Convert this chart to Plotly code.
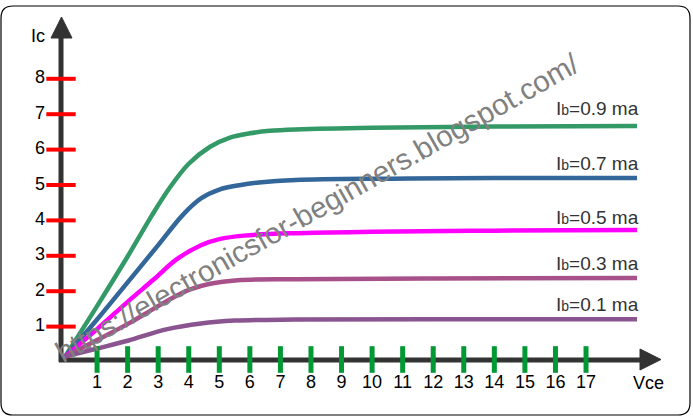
import plotly.graph_objects as go

# transistor output characteristics, Ic vs Vce for several base currents
vce_09 = [-0.05, 1.0, 2.0, 2.8, 3.4, 4.0, 4.7, 5.35, 6.0, 6.65, 7.5, 10.0, 14.0, 18.67]
ic_09 = [0.15, 1.58, 2.98, 4.15, 4.95, 5.6, 6.08, 6.34, 6.46, 6.53, 6.57, 6.62, 6.65, 6.67]

vce_07 = [-0.05, 1.0, 2.0, 3.0, 3.8, 4.4, 5.0, 5.7, 6.3, 7.5, 10.6, 14.0, 18.67]
ic_07 = [0.15, 1.2, 2.25, 3.3, 4.15, 4.62, 4.87, 5.0, 5.07, 5.14, 5.18, 5.2, 5.2]

vce_05 = [-0.05, 1.0, 2.0, 2.85, 3.6, 4.4, 5.0, 5.8, 7.5, 10.0, 14.0, 18.67]
ic_05 = [0.15, 0.93, 1.7, 2.33, 2.9, 3.3, 3.47, 3.57, 3.64, 3.68, 3.71, 3.73]

vce_03 = [-0.05, 1.0, 2.1, 2.75, 3.4, 4.05, 4.7, 5.6, 7.5, 12.0, 18.67]
ic_03 = [0.15, 0.62, 1.12, 1.45, 1.78, 2.05, 2.21, 2.31, 2.34, 2.36, 2.37]

vce_01 = [-0.05, 1.0, 2.0, 3.3, 4.4, 5.5, 7.5, 12.0, 18.67]
ic_01 = [0.15, 0.38, 0.6, 0.93, 1.09, 1.17, 1.2, 1.21, 1.21]

ib_labels = ["0.9", "0.7", "0.5", "0.3", "0.1"]
vce_ticks = list(range(1, 18))
ic_ticks = list(range(1, 9))

curves = [
    (vce_09, ic_09, "#339966", 108),
    (vce_07, ic_07, "#336699", 163),
    (vce_05, ic_05, "#FF00FF", 217),
    (vce_03, ic_03, "#A8508A", 263),
    (vce_01, ic_01, "#8A5490", 304),
]

# pixel -> data helpers (axes span the whole 693x417 figure)
def px2x(p):
    return (p - 66.5) / 30.56

def py2y(p):
    return (362 - p) / 35.4

FONT = "Arial, Liberation Sans, sans-serif"
AXIS = "#333333"

fig = go.Figure()

for (xs, ys, col, _), lab in zip(curves, ib_labels):
    fig.add_trace(go.Scatter(x=xs, y=ys, mode="lines", line=dict(color=col, width=4.5, shape="spline", smoothing=1.0),
                             name="Ib=" + lab + " ma", hoverinfo="skip"))

# red ticks on Ic axis, green ticks on Vce axis
fig.add_trace(go.Scatter(x=[px2x(61)] * len(ic_ticks), y=ic_ticks, mode="markers",
                         marker=dict(symbol="line-ew", size=21, line=dict(color="#FF0000", width=4)),
                         hoverinfo="skip", cliponaxis=False))
fig.add_trace(go.Scatter(x=vce_ticks, y=[py2y(359.5)] * len(vce_ticks), mode="markers",
                         marker=dict(symbol="line-ns", size=19, line=dict(color="#009933", width=5)),
                         hoverinfo="skip", cliponaxis=False))

# tick labels
fig.add_trace(go.Scatter(x=vce_ticks, y=[py2y(383)] * len(vce_ticks), mode="text",
                         text=[str(v) for v in vce_ticks], textposition="middle center",
                         textfont=dict(family=FONT, size=18, color="black"), hoverinfo="skip"))
fig.add_trace(go.Scatter(x=[px2x(40)] * len(ic_ticks), y=ic_ticks, mode="text",
                         text=[str(v) for v in ic_ticks], textposition="middle center",
                         textfont=dict(family=FONT, size=18, color="black"), hoverinfo="skip"))

# axes with arrow heads
fig.add_shape(type="line", x0=px2x(61), y0=py2y(362), x1=px2x(61), y1=py2y(36),
              line=dict(color=AXIS, width=5), layer="below")
fig.add_shape(type="line", x0=px2x(59), y0=py2y(360), x1=px2x(643), y1=py2y(360),
              line=dict(color=AXIS, width=5), layer="below")
fig.add_shape(type="path", path="M {} {} L {} {} L {} {} Z".format(
    px2x(51), py2y(38), px2x(72), py2y(38), px2x(61.5), py2y(17)),
    fillcolor=AXIS, line=dict(color=AXIS, width=1), layer="below")
fig.add_shape(type="path", path="M {} {} L {} {} L {} {} Z".format(
    px2x(640), py2y(349), px2x(640), py2y(370), px2x(661), py2y(359.5)),
    fillcolor=AXIS, line=dict(color=AXIS, width=1), layer="below")

# rounded frame
x0, y0, x1, y1, r = 1, 6, 690, 415, 12
pts = [("M", x0 + r, y0), ("L", x1 - r, y0), ("Q", x1, y0, x1, y0 + r), ("L", x1, y1 - r),
       ("Q", x1, y1, x1 - r, y1), ("L", x0 + r, y1), ("Q", x0, y1, x0, y1 - r),
       ("L", x0, y0 + r), ("Q", x0, y0, x0 + r, y0)]
path = ""
for p in pts:
    cmd = p[0]
    coords = p[1:]
    s = " ".join("{:.4f} {:.4f}".format(px2x(coords[i]), py2y(coords[i + 1])) for i in range(0, len(coords), 2))
    path += "{} {} ".format(cmd, s)
path += "Z"
fig.add_shape(type="path", path=path, line=dict(color="black", width=1.2), layer="below")

# axis titles
fig.add_annotation(x=px2x(38), y=py2y(36), text="Ic", showarrow=False,
                   font=dict(family=FONT, size=18, color="black"))
fig.add_annotation(x=px2x(648), y=py2y(383), text="Vce", showarrow=False,
                   font=dict(family=FONT, size=18, color="black"))

# curve labels
for (xs, ys, col, ypx), lab in zip(curves, ib_labels):
    fig.add_annotation(x=px2x(641), y=py2y(ypx), xanchor="right", yanchor="middle", showarrow=False,
                       text="I<span style='font-size:14px'>b</span>=" + lab + " ma",
                       font=dict(family=FONT, size=19, color="#333333"))

# watermark
fig.add_annotation(x=px2x(317), y=py2y(207), text="https://electronicsfor-beginners.blogspot.com/",
                   textangle=-29.5, showarrow=False, font=dict(family=FONT, size=29.5, color="#808080"))

fig.update_layout(
    width=693, height=417,
    margin=dict(l=0, r=0, t=0, b=0),
    paper_bgcolor="white", plot_bgcolor="rgba(0,0,0,0)",
    showlegend=False,
    xaxis=dict(range=[px2x(0), px2x(693)], visible=False, fixedrange=True),
    yaxis=dict(range=[py2y(417), py2y(0)], visible=False, fixedrange=True),
)

fig.write_html("out.html", config={"displayModeBar": False},
               post_script="document.body.style.margin='0';")
